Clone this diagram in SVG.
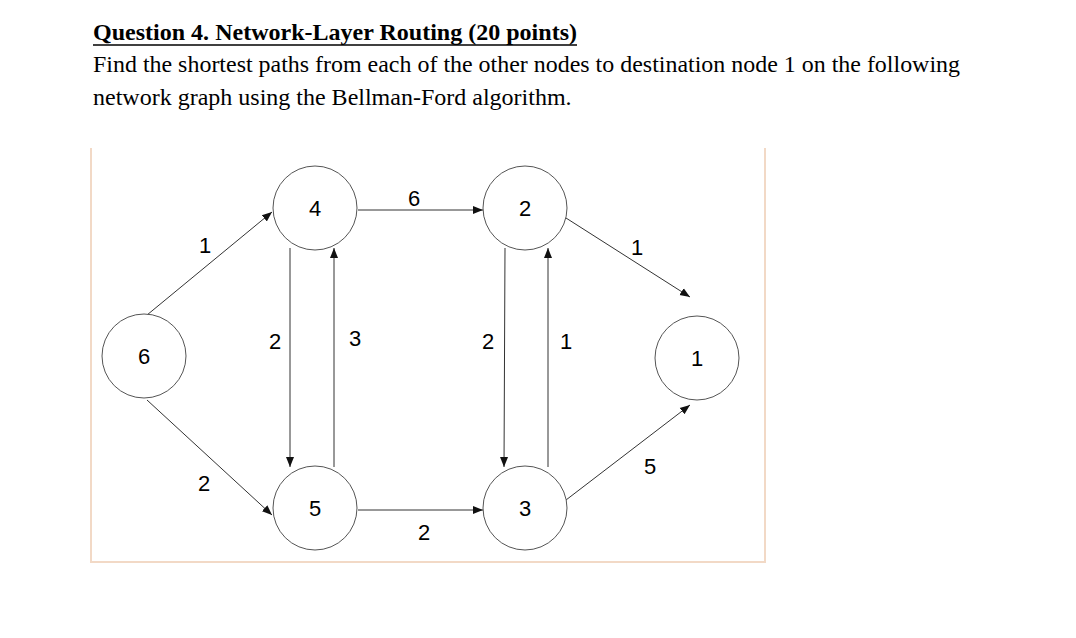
<svg xmlns="http://www.w3.org/2000/svg" width="1076" height="638" viewBox="0 0 1076 638">
<style>
.t{font-family:"Liberation Serif",serif;font-size:24px;fill:#000}
.n{fill:#fff;stroke:#555;stroke-width:1}
.nl{font-family:"Liberation Sans",sans-serif;font-size:22px;text-anchor:middle;fill:#000}
.e{stroke:#333;stroke-width:1;fill:none;marker-end:url(#a)}
</style>
<defs><marker id="a" viewBox="0 0 10 10" refX="10" refY="5" markerWidth="10" markerHeight="10" markerUnits="userSpaceOnUse" orient="auto"><path d="M0,1 L10,5 L0,9 z" fill="#111"/></marker></defs>
<rect width="1076" height="638" fill="#fff"/>
<text class="t" x="93" y="40" font-weight="bold" textLength="484" lengthAdjust="spacingAndGlyphs">Question 4. Network-Layer Routing (20 points)</text>
<line x1="93" y1="45" x2="577" y2="45" stroke="#000" stroke-width="1.5"/>
<text class="t" x="93" y="72" textLength="867" lengthAdjust="spacingAndGlyphs">Find the shortest paths from each of the other nodes to destination node 1 on the following</text>
<text class="t" x="93" y="105">network graph using the Bellman-Ford algorithm.</text>
<path d="M91,148 V562 H765 V148" fill="none" stroke="#f2d9c6" stroke-width="2"/>
<g id="edges">
<line class="e" x1="147" y1="315" x2="272" y2="212"/>
<line class="e" x1="147" y1="400" x2="272" y2="515"/>
<line class="e" x1="358" y1="210" x2="483" y2="210"/>
<line class="e" x1="566" y1="218" x2="690" y2="297"/>
<line class="e" x1="566" y1="500" x2="690" y2="405"/>
<line class="e" x1="358" y1="510" x2="483" y2="510"/>
<line class="e" x1="290" y1="248" x2="290" y2="467"/>
<line class="e" x1="334" y1="467" x2="334" y2="248"/>
<line class="e" x1="505" y1="248" x2="504" y2="467"/>
<line class="e" x1="548" y1="467" x2="548" y2="248"/>
<g class="nl">
<text x="205" y="253">1</text><text x="204" y="491">2</text><text x="414" y="206">6</text>
<text x="637" y="255">1</text><text x="650" y="474">5</text><text x="424" y="540">2</text>
<text x="275" y="349">2</text><text x="355" y="346">3</text><text x="488" y="349">2</text><text x="566" y="349">1</text>
</g>
</g>
<g id="n4"><circle class="n" cx="315" cy="208" r="42"/><text class="nl" x="315" y="216">4</text></g>
<g id="n2"><circle class="n" cx="525" cy="208" r="42"/><text class="nl" x="525" y="216">2</text></g>
<g id="n6"><circle class="n" cx="144" cy="356" r="42"/><text class="nl" x="144" y="364">6</text></g>
<g id="n1"><circle class="n" cx="697" cy="358" r="42"/><text class="nl" x="697" y="366">1</text></g>
<g id="n5"><circle class="n" cx="315" cy="508" r="42"/><text class="nl" x="315" y="516">5</text></g>
<g id="n3"><circle class="n" cx="525" cy="508" r="42"/><text class="nl" x="525" y="516">3</text></g>
</svg>
